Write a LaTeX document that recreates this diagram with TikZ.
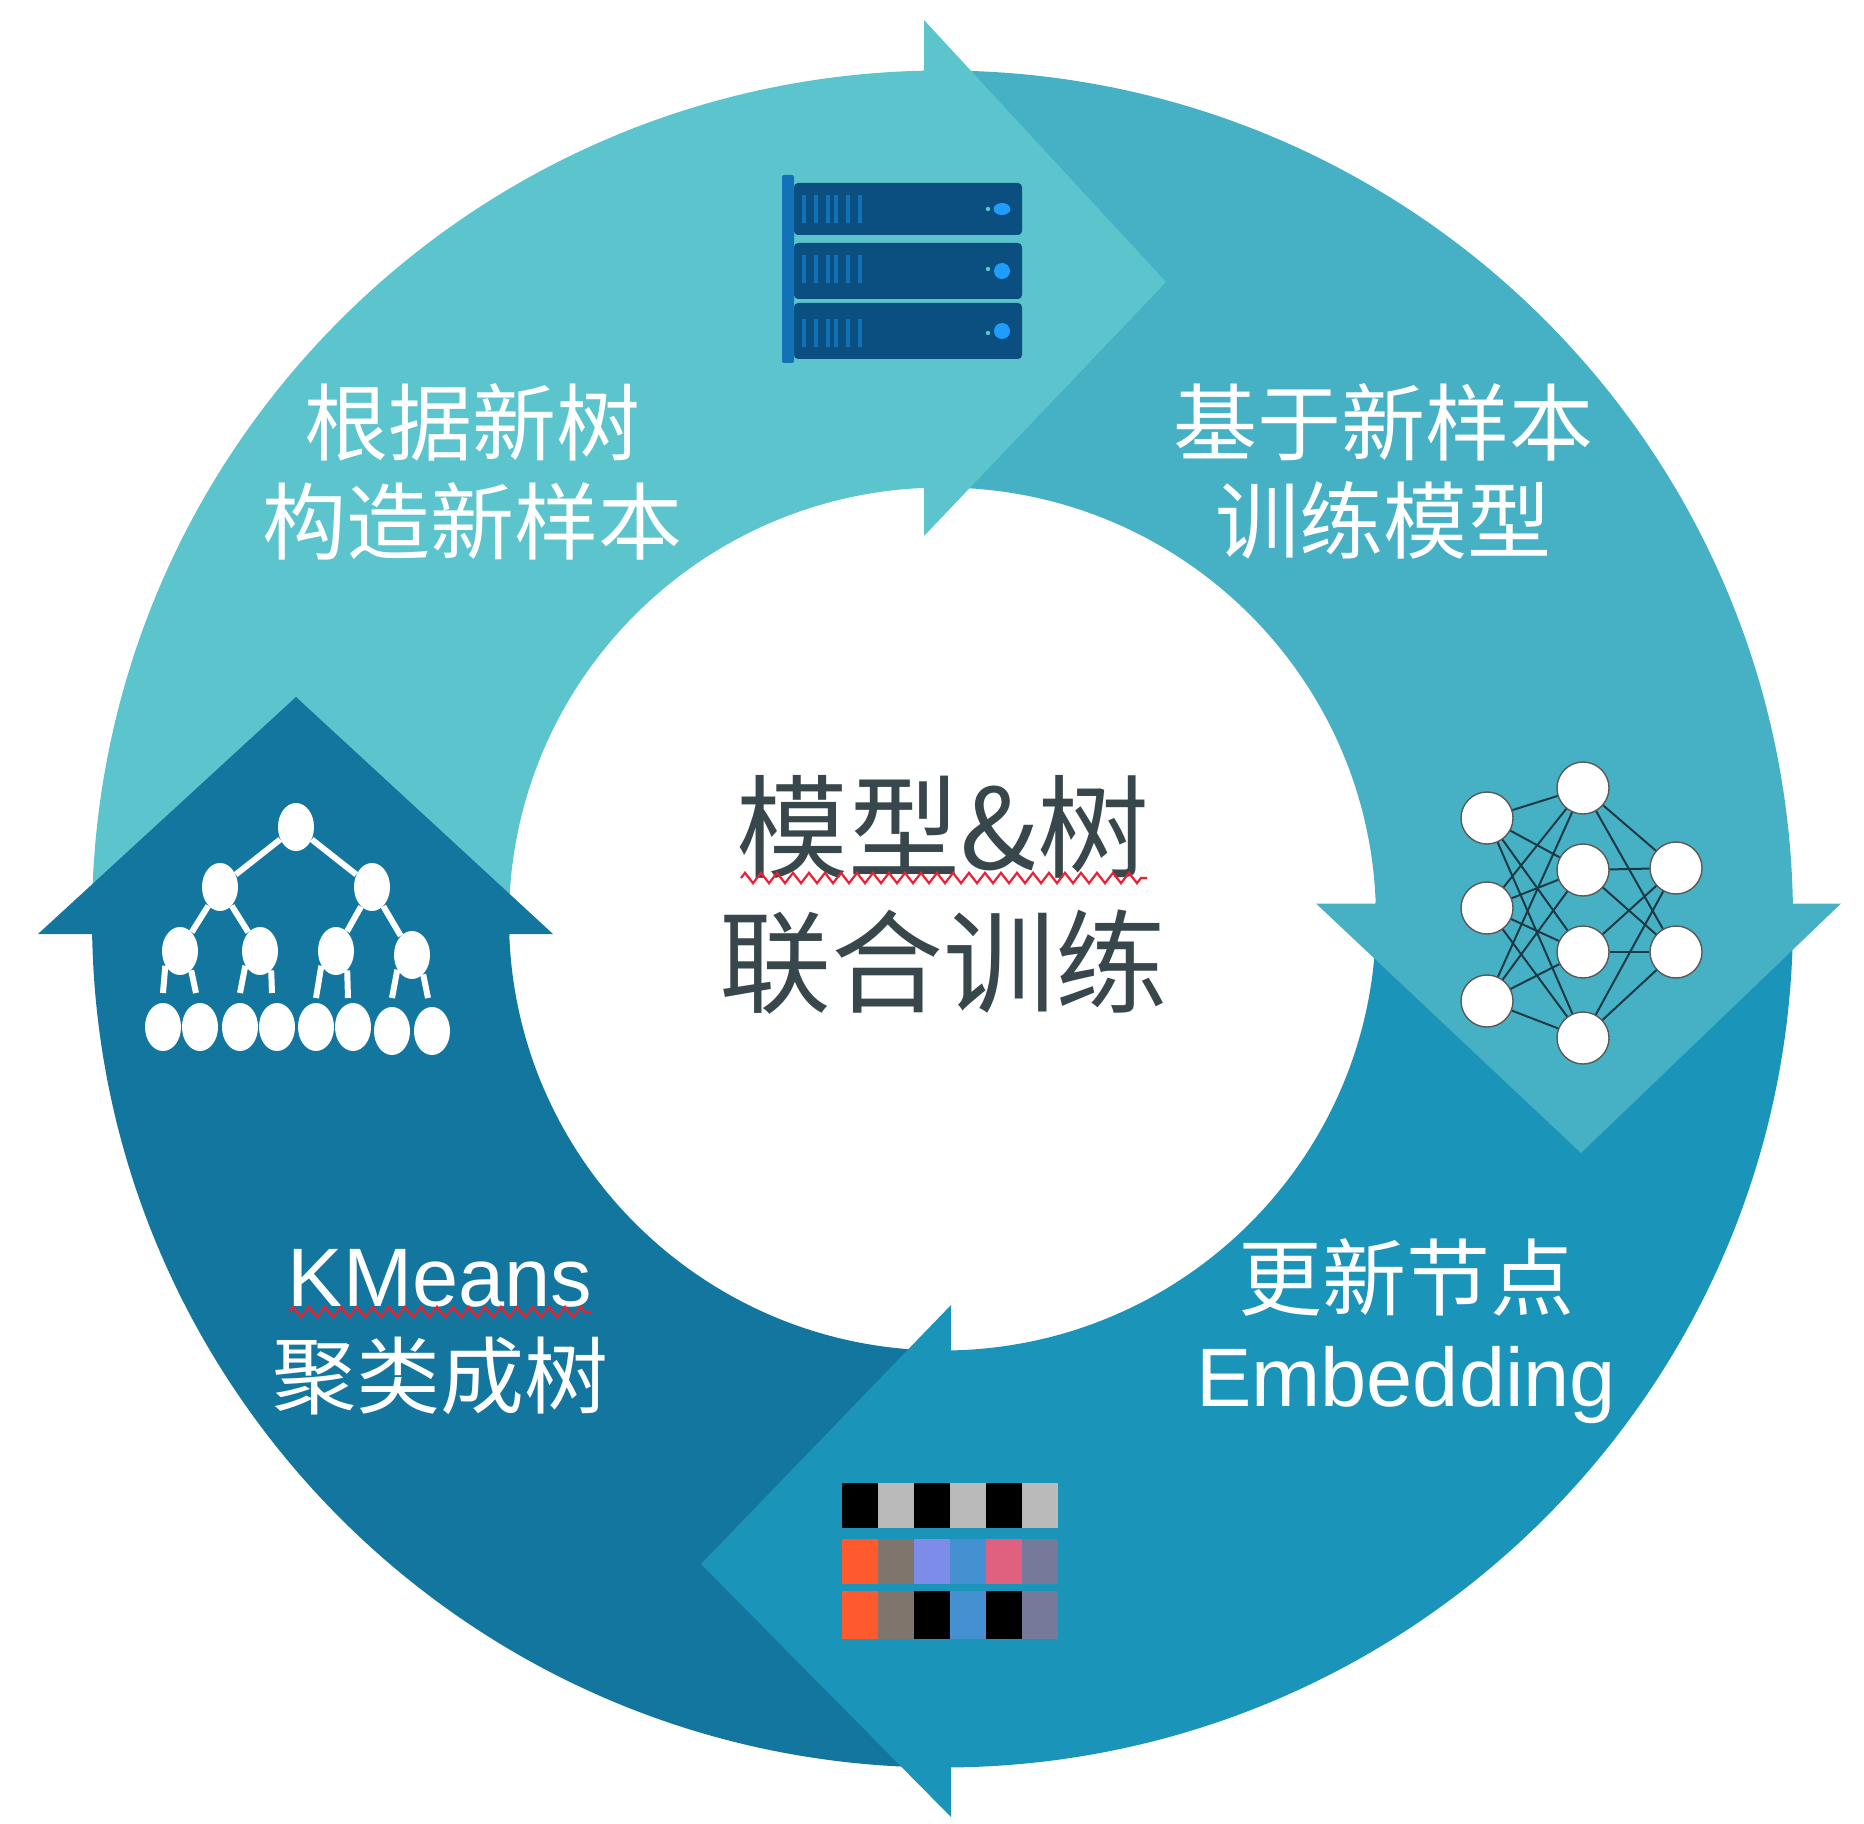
\documentclass[tikz,border=0pt]{standalone}
\usepackage{fontspec}
\usetikzlibrary{shapes.geometric,decorations.pathmorphing}
\newfontfamily\cjk{Noto Sans CJK SC}
\newfontfamily\latn{Liberation Sans}
\definecolor{cTL}{HTML}{5BC4CC}
\definecolor{cTR}{HTML}{46B1C4}
\definecolor{cBR}{HTML}{1A94B8}
\definecolor{cBL}{HTML}{12769E}
\definecolor{panel}{HTML}{0A4F80}
\definecolor{bar}{HTML}{1272B5}
\definecolor{led}{HTML}{1E9DFF}
\definecolor{dark}{HTML}{37474B}
\definecolor{netline}{HTML}{1C3A46}
\definecolor{squig}{HTML}{EC2030}
\definecolor{sGray}{HTML}{BABABA}
\definecolor{sOrange}{HTML}{FF5A2E}
\definecolor{sBrown}{HTML}{7F756C}
\definecolor{sViolet}{HTML}{7D8CE8}
\definecolor{sBlue}{HTML}{4590D0}
\definecolor{sPink}{HTML}{E06080}
\definecolor{sSlate}{HTML}{75799A}
\tikzset{
  whitetext/.style={text=white,inner sep=0pt,font=\cjk\fontsize{42}{50}\selectfont},
  whitelatin/.style={text=white,inner sep=0pt,font=\latn\fontsize{41.5}{50}\selectfont},
  centertext/.style={text=dark,inner sep=0pt,font=\cjk\fontsize{56}{66}\selectfont},
  netnode/.style={circle,draw=black!65,line width=0.7pt,fill=white,minimum size=26pt,inner sep=0pt},
  netlink/.style={draw=netline,line width=1pt},
  treenode/.style={ellipse,fill=white,minimum width=18pt,minimum height=24pt,inner sep=0pt},
  treelink/.style={draw=white,line width=3pt},
  squiggle/.style={draw=squig,line width=1.1pt,decorate,decoration={zigzag,segment length=8pt,amplitude=2.6pt}},
}
\newcommand{\ringsector}[5]{%
  \begin{scope}
    \clip (#1,#2) rectangle (#3,#4);
    \fill[#5,even odd rule]
      (942.5,919) ellipse [x radius=425.25pt,y radius=424.25pt]
      (942.5,919) ellipse [x radius=216.75pt,y radius=215.75pt];
  \end{scope}}
\begin{document}
\begin{tikzpicture}[x=0.5pt,y=-0.5pt]
\useasboundingbox (0,0) rectangle (1864,1824);
% ring: each sector overlaps the next one's arrow head, so no seam shows
\ringsector{950}{902}{1864}{1824}{cBR}
\ringsector{923}{0}{1864}{904}{cTR}
\ringsector{0}{0}{925}{935}{cTL}
\ringsector{0}{933.5}{950.5}{1824}{cBL}
% arrow heads
\fill[cTL] (924,20) -- (1166,282) -- (924,536) -- cycle;
\fill[cTR] (1316,903.5) -- (1841,903.5) -- (1581,1153) -- cycle;
\fill[cBR] (951,1305) -- (951,1817) -- (701,1564) -- cycle;
\fill[cBL] (38,934) -- (553,934) -- (296,697) -- cycle;
% server icon
\fill[panel,rounded corners=2pt] (794,183) rectangle (1022,235);
\fill[panel,rounded corners=2pt] (794,243) rectangle (1022,299);
\fill[panel,rounded corners=2pt] (794,303) rectangle (1022,359);
\fill[bar,rounded corners=1pt] (782,175) rectangle (794,363);
\foreach \x in {804,816,828,836,848,860}{
  \fill[bar] (\x-2,195) rectangle (\x+2,223);
  \fill[bar] (\x-2,255) rectangle (\x+2,283);
  \fill[bar] (\x-2,319) rectangle (\x+2,347);
}
\fill[cTL] (988,209) circle [radius=1.1pt];
\fill[cTL] (988,269) circle [radius=1.1pt];
\fill[cTL] (988,333) circle [radius=1.1pt];
\fill[led] (1002,209) ellipse [x radius=4.2pt,y radius=3pt];
\fill[led] (1002,271) circle [radius=4pt];
\fill[led] (1002,331) circle [radius=4pt];
% network icon
\node[netnode] (L1) at (1487,818) {};
\node[netnode] (L2) at (1487,908) {};
\node[netnode] (L3) at (1487,1001) {};
\node[netnode] (M1) at (1583,788) {};
\node[netnode] (M2) at (1583,870) {};
\node[netnode] (M3) at (1583,952) {};
\node[netnode] (M4) at (1583,1038) {};
\node[netnode] (R1) at (1676,868) {};
\node[netnode] (R2) at (1676,952) {};
\foreach \a in {L1,L2,L3}{\foreach \b in {M1,M2,M3,M4}{\draw[netlink] (\a) -- (\b);}}
\foreach \a in {M1,M2,M3,M4}{\foreach \b in {R1,R2}{\draw[netlink] (\a) -- (\b);}}
% tree icon
\node[treenode] (t0) at (296,827) {};
\node[treenode] (t1) at (220,887) {};
\node[treenode] (t2) at (372,887) {};
\node[treenode] (t3) at (180,951) {};
\node[treenode] (t4) at (260,951) {};
\node[treenode] (t5) at (336,951) {};
\node[treenode] (t6) at (412,955) {};
\node[treenode] (l1) at (163,1027) {};
\node[treenode] (l2) at (200,1027) {};
\node[treenode] (l3) at (240,1027) {};
\node[treenode] (l4) at (277,1027) {};
\node[treenode] (l5) at (316,1027) {};
\node[treenode] (l6) at (353,1027) {};
\node[treenode] (l7) at (392,1031) {};
\node[treenode] (l8) at (432,1031) {};
\draw[treelink] (t0) -- (t1);
\draw[treelink] (t0) -- (t2);
\draw[treelink] (t1) -- (t3);
\draw[treelink] (t1) -- (t4);
\draw[treelink] (t2) -- (t5);
\draw[treelink] (t2) -- (t6);
\coordinate (s1) at (163,993); \coordinate (s2) at (196,993);
\coordinate (s3) at (240,993); \coordinate (s4) at (272,993);
\coordinate (s5) at (316,998); \coordinate (s6) at (348,998);
\coordinate (s7) at (392,998); \coordinate (s8) at (428,998);
\draw[treelink] (t3.225) -- (s1);
\draw[treelink] (t3.-60) -- (s2);
\draw[treelink] (t4.225) -- (s3);
\draw[treelink] (t4.-60) -- (s4);
\draw[treelink] (t5.225) -- (s5);
\draw[treelink] (t5.-60) -- (s6);
\draw[treelink] (t6.225) -- (s7);
\draw[treelink] (t6.-60) -- (s8);
% swatches
\foreach \x/\c in {842/black,878/sGray,914/black,950/sGray,986/black,1022/sGray}{
  \fill[\c] (\x,1483) rectangle (\x+36,1528);}
\foreach \x/\c in {842/sOrange,878/sBrown,914/sViolet,950/sBlue,986/sPink,1022/sSlate}{
  \fill[\c] (\x,1539) rectangle (\x+36,1584);}
\foreach \x/\c in {842/sOrange,878/sBrown,914/black,950/sBlue,986/black,1022/sSlate}{
  \fill[\c] (\x,1591) rectangle (\x+36,1639);}
% texts
\node[whitetext] (a1) at (472,422) {根据新树};
\node[whitetext] (a2) at (472,521) {构造新样本};
\node[whitetext] (b1) at (1383,422) {基于新样本};
\node[whitetext] (b2) at (1383,520) {训练模型};
\node[whitetext] (c1) at (1406,1277) {更新节点};
\node[whitelatin] (c2) at (1406,1385) {Embedding};
\node[whitelatin] (d1) at (440,1278) {KMeans};
\node[whitetext] (d2) at (440,1376) {聚类成树};
\node[centertext] (e1) at (943,827) {模型\&树};
\node[centertext] (e2) at (943,962) {联合训练};
\coordinate (q1) at (741,878); \coordinate (q2) at (1147,878);
\coordinate (q3) at (289,1312); \coordinate (q4) at (592,1312);
\draw[squiggle] (q1) -- (q2);
\draw[squiggle] (q3) -- (q4);
\end{tikzpicture}
\end{document}
